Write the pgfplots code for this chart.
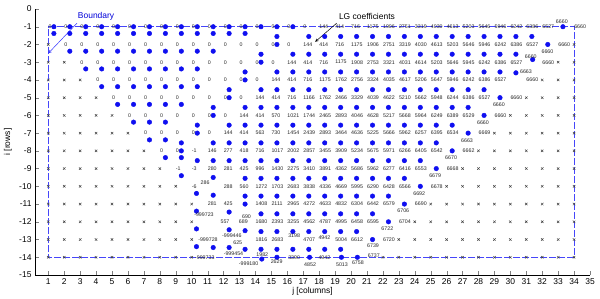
\documentclass[border=0pt]{standalone}
\usepackage{fontspec}
\setmainfont{Liberation Sans}
\usepackage{pgfplots}
\pgfplotsset{compat=1.18}
\definecolor{dotblue}{RGB}{15,15,240}
\definecolor{bndblue}{RGB}{70,70,250}
\begin{document}
\begin{tikzpicture}
\begin{axis}[
  scale only axis, width=555bp, height=266bp,
  xmin=0.165, xmax=35, ymin=-15, ymax=0,
  axis x line*=bottom, axis y line*=left,
  xtick={1,...,35}, ytick={-15,...,0},
  /pgf/number format/assume math mode=true,
  tick label style={font=\fontsize{8.5}{9}\selectfont},
  major tick length=4bp,
  every axis x label/.style={at={(axis description cs:0.5,-0.0628)},anchor=center,font=\fontsize{8.5}{9}\selectfont},
  every axis y label/.style={at={(axis description cs:-0.0486,0.5)},rotate=90,anchor=center,font=\fontsize{8.5}{9}\selectfont},
  xlabel={j [columns]}, ylabel={i [rows]},
  clip=false,
]
% boundary
\addplot[bndblue, line width=1.1bp, dash pattern=on 7bp off 2bp] coordinates {(1,-1)(34,-1)(34,-14)(1,-14)(1,-1)};
% x markers
\addplot[only marks, mark=x, mark size=1.7bp, black!75, mark options={line width=0.5bp}] coordinates {
(1,-2)(34,-2)
(1,-3)(2,-3)(33,-3)(34,-3)
(1,-4)(2,-4)(3,-4)(32,-4)(33,-4)(34,-4)
(1,-5)(2,-5)(3,-5)(4,-5)(31,-5)(32,-5)(33,-5)(34,-5)
(1,-6)(2,-6)(3,-6)(4,-6)(5,-6)(30,-6)(31,-6)(32,-6)(33,-6)(34,-6)
(1,-7)(2,-7)(3,-7)(4,-7)(5,-7)(6,-7)(29,-7)(30,-7)(31,-7)(32,-7)(33,-7)(34,-7)
(1,-8)(2,-8)(3,-8)(4,-8)(5,-8)(6,-8)(7,-8)(28,-8)(29,-8)(30,-8)(31,-8)(32,-8)(33,-8)(34,-8)
(1,-9)(2,-9)(3,-9)(4,-9)(5,-9)(6,-9)(7,-9)(8,-9)(27,-9)(28,-9)(29,-9)(30,-9)(31,-9)(32,-9)(33,-9)(34,-9)
(1,-10)(2,-10)(3,-10)(4,-10)(5,-10)(6,-10)(7,-10)(8,-10)(9,-10)(26,-10)(27,-10)(28,-10)(29,-10)(30,-10)(31,-10)(32,-10)(33,-10)(34,-10)
(1,-11)(2,-11)(3,-11)(4,-11)(5,-11)(6,-11)(7,-11)(8,-11)(9,-11)(10,-11)(25,-11)(26,-11)(27,-11)(28,-11)(29,-11)(30,-11)(31,-11)(32,-11)(33,-11)(34,-11)
(1,-12)(2,-12)(3,-12)(4,-12)(5,-12)(6,-12)(7,-12)(8,-12)(9,-12)(10,-12)(24,-12)(25,-12)(26,-12)(27,-12)(28,-12)(29,-12)(30,-12)(31,-12)(32,-12)(33,-12)(34,-12)
(1,-13)(2,-13)(3,-13)(4,-13)(5,-13)(6,-13)(7,-13)(8,-13)(9,-13)(10,-13)(23,-13)(24,-13)(25,-13)(26,-13)(27,-13)(28,-13)(29,-13)(30,-13)(31,-13)(32,-13)(33,-13)(34,-13)
(1,-14)(2,-14)(3,-14)(4,-14)(5,-14)(6,-14)(7,-14)(8,-14)(9,-14)(10,-14)(22,-14)(23,-14)(24,-14)(25,-14)(26,-14)(27,-14)(28,-14)(29,-14)(30,-14)(31,-14)(32,-14)(33,-14)(34,-14)
};
% blue dots
\addplot[only marks, mark=*, mark size=2.3bp, dotblue, mark options={draw=dotblue, fill=dotblue}] coordinates {
(1.35,-1)(2.35,-1)(3.35,-1)(4.35,-1)(5.35,-1)(6.35,-1)(7.35,-1)(8.35,-1)(9.35,-1)(10.35,-1)(11.35,-1)(12.35,-1)(13.35,-1)(14.35,-1)(15.35,-1)(16.35,-1)(33.3,-1)
(1.35,-1.38)(2.35,-1.38)(3.35,-1.38)(4.35,-1.38)(5.35,-1.38)(6.35,-1.38)(7.35,-1.38)(8.35,-1.38)(9.35,-1.38)(10.35,-1.38)(11.35,-1.38)(12.35,-1.38)(13.35,-1.38)
(15.35,-1.55)
(17.35,-1.55)(18.35,-1.55)(19.35,-1.55)(20.35,-1.55)(21.35,-1.55)(22.35,-1.55)(23.35,-1.55)(24.35,-1.55)(25.35,-1.55)(26.35,-1.55)(27.35,-1.55)(28.35,-1.55)(29.35,-1.55)(30.35,-1.55)(31.35,-1.55)
(2.35,-2.38)(3.35,-2.38)(4.35,-2.38)(5.35,-2.38)(6.35,-2.38)(7.35,-2.38)(8.35,-2.38)(9.35,-2.38)(10.35,-2.38)(11.35,-2.38)
(14.35,-2.55)(15.35,-2)
(16.35,-2.55)(17.35,-2.55)(18.35,-2.55)(19.35,-2.55)(20.35,-2.55)(21.35,-2.55)(22.35,-2.55)(23.35,-2.55)(24.35,-2.55)(25.35,-2.55)(26.35,-2.55)(27.35,-2.55)(28.35,-2.55)(29.35,-2.55)(30.35,-2.55)
(32.35,-2)
(3.35,-3.38)(4.35,-3.38)(5.35,-3.38)(6.35,-3.38)(7.35,-3.38)(8.35,-3.38)(9.35,-3.38)(10.35,-3.38)
(13.35,-3.55)(14.35,-3)
(15.35,-3.55)(16.35,-3.55)(17.35,-3.55)(18.35,-3.55)(19.35,-3.55)(20.35,-3.55)(21.35,-3.55)(22.35,-3.55)(23.35,-3.55)(24.35,-3.55)(25.35,-3.55)(26.35,-3.55)(27.35,-3.55)(28.35,-3.55)(29.35,-3.55)
(31.4,-2.85)
(4.35,-4.38)(5.35,-4.38)(6.35,-4.38)(7.35,-4.38)(8.35,-4.38)(9.35,-4.38)(10.35,-4.38)
(12.35,-4.55)(13.35,-4)
(14.35,-4.55)(15.35,-4.55)(16.35,-4.55)(17.35,-4.55)(18.35,-4.55)(19.35,-4.55)(20.35,-4.55)(21.35,-4.55)(22.35,-4.55)(23.35,-4.55)(24.35,-4.55)(25.35,-4.55)(26.35,-4.55)(27.35,-4.55)(28.35,-4.55)
(30.35,-3.6)
(5.35,-5.38)(6.35,-5.38)(7.35,-5.38)(8.35,-5.38)(9.35,-5.38)
(11.35,-5.55)(12.35,-5)
(13.35,-5.55)(14.35,-5.55)(15.35,-5.55)(16.35,-5.55)(17.35,-5.55)(18.35,-5.55)(19.35,-5.55)(20.35,-5.55)(21.35,-5.55)(22.35,-5.55)(23.35,-5.55)(24.35,-5.55)(25.35,-5.55)(26.35,-5.55)(27.35,-5.55)
(29.35,-5)
(6.35,-6.38)(7.35,-6.38)(8.35,-6.38)
(10.35,-6.55)(11.35,-6)
(12.35,-6.55)(13.35,-6.55)(14.35,-6.55)(15.35,-6.55)(16.35,-6.55)(17.35,-6.55)(18.35,-6.55)(19.35,-6.55)(20.35,-6.55)(21.35,-6.55)(22.35,-6.55)(23.35,-6.55)(24.35,-6.55)(25.35,-6.55)(26.35,-6.55)
(28.35,-6)
(7.35,-7.38)(8.35,-7.38)(9.35,-7.55)(10.35,-7)
(11.35,-7.55)(12.35,-7.55)(13.35,-7.55)(14.35,-7.55)(15.35,-7.55)(16.35,-7.55)(17.35,-7.55)(18.35,-7.55)(19.35,-7.55)(20.35,-7.55)(21.35,-7.55)(22.35,-7.55)(23.35,-7.55)(24.35,-7.55)(25.35,-7.55)
(27.35,-7)
(8.35,-8.38)(9.35,-8.38)(9.35,-8)
(10.35,-8.55)(11.35,-8.55)(12.35,-8.55)(13.35,-8.55)(14.35,-8.55)(15.35,-8.55)(16.35,-8.55)(17.35,-8.55)(18.35,-8.55)(19.35,-8.55)(20.35,-8.55)(21.35,-8.55)(22.35,-8.55)(23.35,-8.55)(24.35,-8.55)
(26.35,-8)
(9.35,-9.4)(11.35,-9.5)
(13.35,-9.55)(14.35,-9.55)(15.35,-9.55)(16.35,-9.55)(17.35,-9.55)(18.35,-9.55)(19.35,-9.55)(20.35,-9.55)(21.35,-9.55)(22.35,-9.55)(23.35,-9.55)
(25.35,-9)
(10.3,-10.4)(11.35,-10.5)
(13.35,-10.55)(14.35,-10.55)(15.35,-10.55)(16.35,-10.55)(17.35,-10.55)(18.35,-10.55)(19.35,-10.55)(20.35,-10.55)(21.35,-10.55)(22.35,-10.55)
(24.35,-10)
(10.3,-11.4)(12.35,-11.45)(13.35,-11)
(14.35,-11.55)(15.35,-11.55)(16.35,-11.55)(17.35,-11.55)(18.35,-11.55)(19.35,-11.55)(20.35,-11.55)(21.35,-11.55)
(23.35,-11)
(10.3,-12.4)(12.35,-12.45)(13.35,-12.5)
(14.35,-12.55)(15.35,-12.55)(16.35,-12.55)(17.35,-12.55)(18.35,-12.55)(19.35,-12.55)(20.35,-12.55)
(22.35,-12)
(10.3,-13.4)(11.35,-13.45)(12.35,-13.45)
(13.35,-13.55)(14.35,-13.55)(15.35,-13.55)(16.35,-13.55)(17.35,-13.55)(18.35,-13.55)(19.35,-13.55)
(21.35,-13)
(14.4,-14.1)(15.35,-14)(17.4,-14)(19.4,-14)(20.4,-14)
};
% coefficient labels
\addplot[only marks, mark=none, point meta=explicit symbolic,
  nodes near coords={\pgfplotspointmeta},
  nodes near coords style={anchor=west, inner sep=0pt, text=black!85, font=\fontsize{5.3}{6}\selectfont}]
  table[meta=t] {
x y t
1 -1 0
2 -1 0
3 -1 0
4 -1 0
5 -1 0
6 -1 0
7 -1 0
8 -1 0
9 -1 0
10 -1 0
11 -1 0
12 -1 0
13 -1 0
14 -1 0
15 -1 0
16 -1 0
17 -1 0
18 -1 144
19 -1 414
20 -1 716
21 -1 1175
22 -1 1906
23 -1 2751
24 -1 3319
25 -1 4030
26 -1 4613
27 -1 5203
28 -1 5646
29 -1 5946
30 -1 6242
31 -1 6386
32 -1 6527
32.85 -0.72 6660
34 -1 6660
2 -2 0
3 -2 0
4 -2 0
5 -2 0
6 -2 0
7 -2 0
8 -2 0
9 -2 0
10 -2 0
11 -2 0
12 -2 0
13 -2 0
14 -2 0
15 -2 0
16 -2 0
17 -2 144
18 -2 414
19 -2 716
20 -2 1175
21 -2 1906
22 -2 2751
23 -2 3319
24 -2 4030
25 -2 4613
26 -2 5203
27 -2 5646
28 -2 5946
29 -2 6242
30 -2 6386
31 -2 6527
31.95 -2.4 6660
33 -2 6660
3 -3 0
4 -3 0
5 -3 0
6 -3 0
7 -3 0
8 -3 0
9 -3 0
10 -3 0
11 -3 0
12 -3 0
13 -3 0
14 -3 0
15 -3 0
16 -3 144
17 -3 414
18 -3 716
19 -3 1175
20 -3 1908
21 -3 2753
22 -3 3321
23 -3 4031
24 -3 4614
25 -3 5203
26 -3 5646
27 -3 5945
28 -3 6242
29 -3 6386
30 -3 6527
30.9 -2.7 6660
32 -3 6660
4 -4 0
5 -4 0
6 -4 0
7 -4 0
8 -4 0
9 -4 0
10 -4 0
11 -4 0
12 -4 0
13 -4 0
14 -4 0
15 -4 144
16 -4 414
17 -4 716
18 -4 1175
19 -4 1762
20 -4 2756
21 -4 3324
22 -4 4035
23 -4 4617
24 -4 5206
25 -4 5647
26 -4 5946
27 -4 6242
28 -4 6386
29 -4 6527
30.6 -3.55 6663
31 -4 6660
5 -5 0
6 -5 0
7 -5 0
8 -5 0
9 -5 0
10 -5 0
11 -5 0
12 -5 0
13 -5 0
14 -5 144
15 -5 414
16 -5 716
17 -5 1166
18 -5 1762
19 -5 2466
20 -5 3329
21 -5 4039
22 -5 4622
23 -5 5210
24 -5 5662
25 -5 5948
26 -5 6244
27 -5 6386
28 -5 6527
28.9 -5.4 6660
30 -5 6660
6 -6 0
7 -6 0
8 -6 0
9 -6 0
10 -6 0
11 -6 0
12 -6 0
13 -6 144
14 -6 414
15 -6 570
16 -6 1021
17 -6 1744
18 -6 2465
19 -6 2893
20 -6 4046
21 -6 4628
22 -6 5217
23 -6 5668
24 -6 5964
25 -6 6249
26 -6 6389
27 -6 6529
27.9 -6.4 6660
29 -6 6660
7 -7 0
8 -7 0
9 -7 0
10 -7 0
11 -7 0
12 -7 144
13 -7 414
14 -7 563
15 -7 730
16 -7 1454
17 -7 2439
18 -7 2893
19 -7 3464
20 -7 4636
21 -7 5225
22 -7 5666
23 -7 5962
24 -7 6257
25 -7 6395
26 -7 6534
26.9 -7.4 6663
28 -7 6669
8 -8 0
9 -8 0
10 -8 -1
11 -8 146
12 -8 277
13 -8 418
14 -8 716
15 -8 1017
16 -8 2002
17 -8 2857
18 -8 3455
19 -8 3909
20 -8 5234
21 -8 5675
22 -8 5971
23 -8 6266
24 -8 6405
25 -8 6542
25.9 -8.4 6670
27 -8 6662
9 -9 -1
10 -9 -3
11 -9 280
12 -9 281
13 -9 425
14 -9 996
15 -9 1430
16 -9 2275
17 -9 3410
18 -9 3891
19 -9 4362
20 -9 5686
21 -9 5962
22 -9 6277
23 -9 6416
24 -9 6553
24.9 -9.4 6679
26 -9 6668
10 -10 -6
10.55 -9.8 286
12 -10 288
13 -10 560
14 -10 1272
15 -10 1703
16 -10 2683
17 -10 3838
18 -10 4336
19 -10 4669
20 -10 5995
21 -10 6290
22 -10 6428
23 -10 6566
23.9 -10.4 6692
25 -10 6678
11 -11 281
12 -11 425
14 -11 1408
15 -11 2111
16 -11 2965
17 -11 4272
18 -11 4633
19 -11 4832
20 -11 6304
21 -11 6442
22 -11 6579
22.9 -11.4 6706
24 -11 6690
10.15 -11.6 -999723
11.8 -12 557
12.95 -12 689
13.15 -11.7 690
14 -12 1680
15 -12 2393
16 -12 3255
17 -12 4562
18 -12 4787
19 -12 4995
20 -12 6458
21 -12 6595
21.9 -12.4 6722
23 -12 6704
10.4 -13 -999728
11.9 -12.8 -999446
12.6 -13.2 625
14 -13 1816
15 -13 2683
16.05 -12.8 3198
17 -13 4707
17.95 -12.9 4942
19 -13 5004
20 -13 6612
21.0 -13.35 6739
22 -13 6720
10.2 -14 -999733
12.0 -13.8 -999454
12.95 -14.37 -999180
14.05 -13.85 1982
14.95 -14.25 2629
16.05 -14 3390
17.05 -14.4 4852
17.95 -14 4942
19.05 -14.4 5013
20.05 -14.3 6758
21.05 -13.9 6737
};
% annotations
\node[text=blue!85!black, font=\fontsize{8.5}{9}\selectfont] at (axis cs:4.0,-0.43) {Boundary};
\draw[blue!80, -stealth, line width=0.5bp] (axis cs:2.8,-0.8) -- (axis cs:1.0,-2.5);
\node[text=black, font=\fontsize{8.5}{9}\selectfont] at (axis cs:21.0,-0.43) {LG coefficients};
\draw[black, -stealth, line width=0.5bp] (axis cs:19.1,-0.8) -- (axis cs:17.75,-1.85);
\end{axis}
\pgfresetboundingbox
\path (-35bp,-24bp) rectangle (565bp,275bp);
\end{tikzpicture}
\end{document}
